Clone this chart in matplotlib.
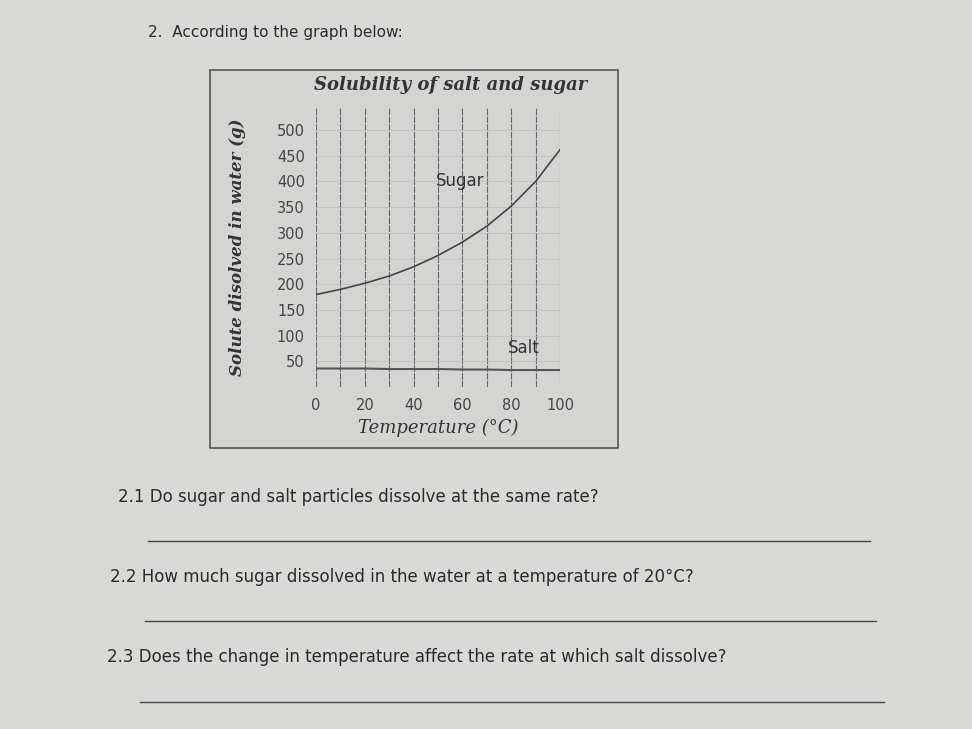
import matplotlib
matplotlib.use("Agg")
import matplotlib.pyplot as plt
from matplotlib.patches import Rectangle

temps = [0, 10, 20, 30, 40, 50, 60, 70, 80, 90, 100]
sugar = [180, 190, 202, 216, 234, 256, 282, 313, 352, 400, 462]
salt = [36, 36, 36, 35, 35, 35, 34, 34, 33, 33, 33]
yticks = [50, 100, 150, 200, 250, 300, 350, 400, 450, 500]
xticks = [0, 20, 40, 60, 80, 100]

W, H = 972, 729
fig = plt.figure(figsize=(9.72, 7.29), dpi=100)
bg = '#d9d9d7'
fig.patch.set_facecolor(bg)

def fx(x): return x / W
def fy(y): return 1 - y / H

# chart box
box = Rectangle((fx(210), fy(448)), fx(618) - fx(210), fy(70) - fy(448),
                transform=fig.transFigure, fill=True, facecolor='#d4d4d2',
                edgecolor='#555555', lw=1.2, zorder=-5)
fig.patches.append(box)

ax = fig.add_axes([fx(316), fy(387), fx(560) - fx(316), fy(107) - fy(387)])
ax.set_zorder(2)
ax.set_facecolor('none')
ax.set_xlim(0, 100)
ax.set_ylim(0, 545)
for x in range(0, 101, 10):
    ax.axvline(x, color='#666666', lw=0.8, ls=(0, (6, 1)))
for y in range(0, 545, 50):
    ax.axhline(y, color='#bbbbbb', lw=0.5)
ax.plot(temps, sugar, color='#444444', lw=1.2)
ax.plot(temps, salt, color='#555555', lw=1.5)
ax.text(59, 400, 'Sugar', fontsize=12, color='#333333', ha='center', va='center')
ax.text(85, 75, 'Salt', fontsize=12, color='#333333', ha='center', va='center')
ax.set_xticks(xticks)
ax.set_yticks(yticks)
ax.tick_params(length=0, labelsize=10.5, labelcolor='#444444', pad=8)
for s in ax.spines.values():
    s.set_visible(False)
ax.set_xlabel('Temperature (°C)', fontsize=13, family='DejaVu Serif', style='italic', color='#333333', labelpad=4)
ax.set_ylabel('Solute disolved in water (g)', fontsize=12, family='DejaVu Serif', style='italic',
              weight='bold', color='#333333', labelpad=22)
ax.set_title('Solubility of salt and sugar', fontsize=13, family='DejaVu Serif', style='italic',
             weight='bold', color='#333333', pad=12, x=0.55)

tc = '#2a2a2a'
fig.text(fx(148), fy(33), '2.  According to the graph below:', fontsize=11, color=tc, va='center')
fig.text(fx(118), fy(497), '2.1 Do sugar and salt particles dissolve at the same rate?', fontsize=12, color=tc, va='center')
fig.text(fx(110), fy(577), '2.2 How much sugar dissolved in the water at a temperature of 20°C?', fontsize=12, color=tc, va='center')
fig.text(fx(107), fy(657), '2.3 Does the change in temperature affect the rate at which salt dissolve?', fontsize=12, color=tc, va='center')
for y, x0, x1 in [(541, 148, 870), (621, 145, 876), (702, 140, 884)]:
    fig.add_artist(plt.Line2D([fx(x0), fx(x1)], [fy(y), fy(y)], transform=fig.transFigure, color='#444444', lw=1))

fig.savefig('out.png', dpi=100, facecolor=bg)
